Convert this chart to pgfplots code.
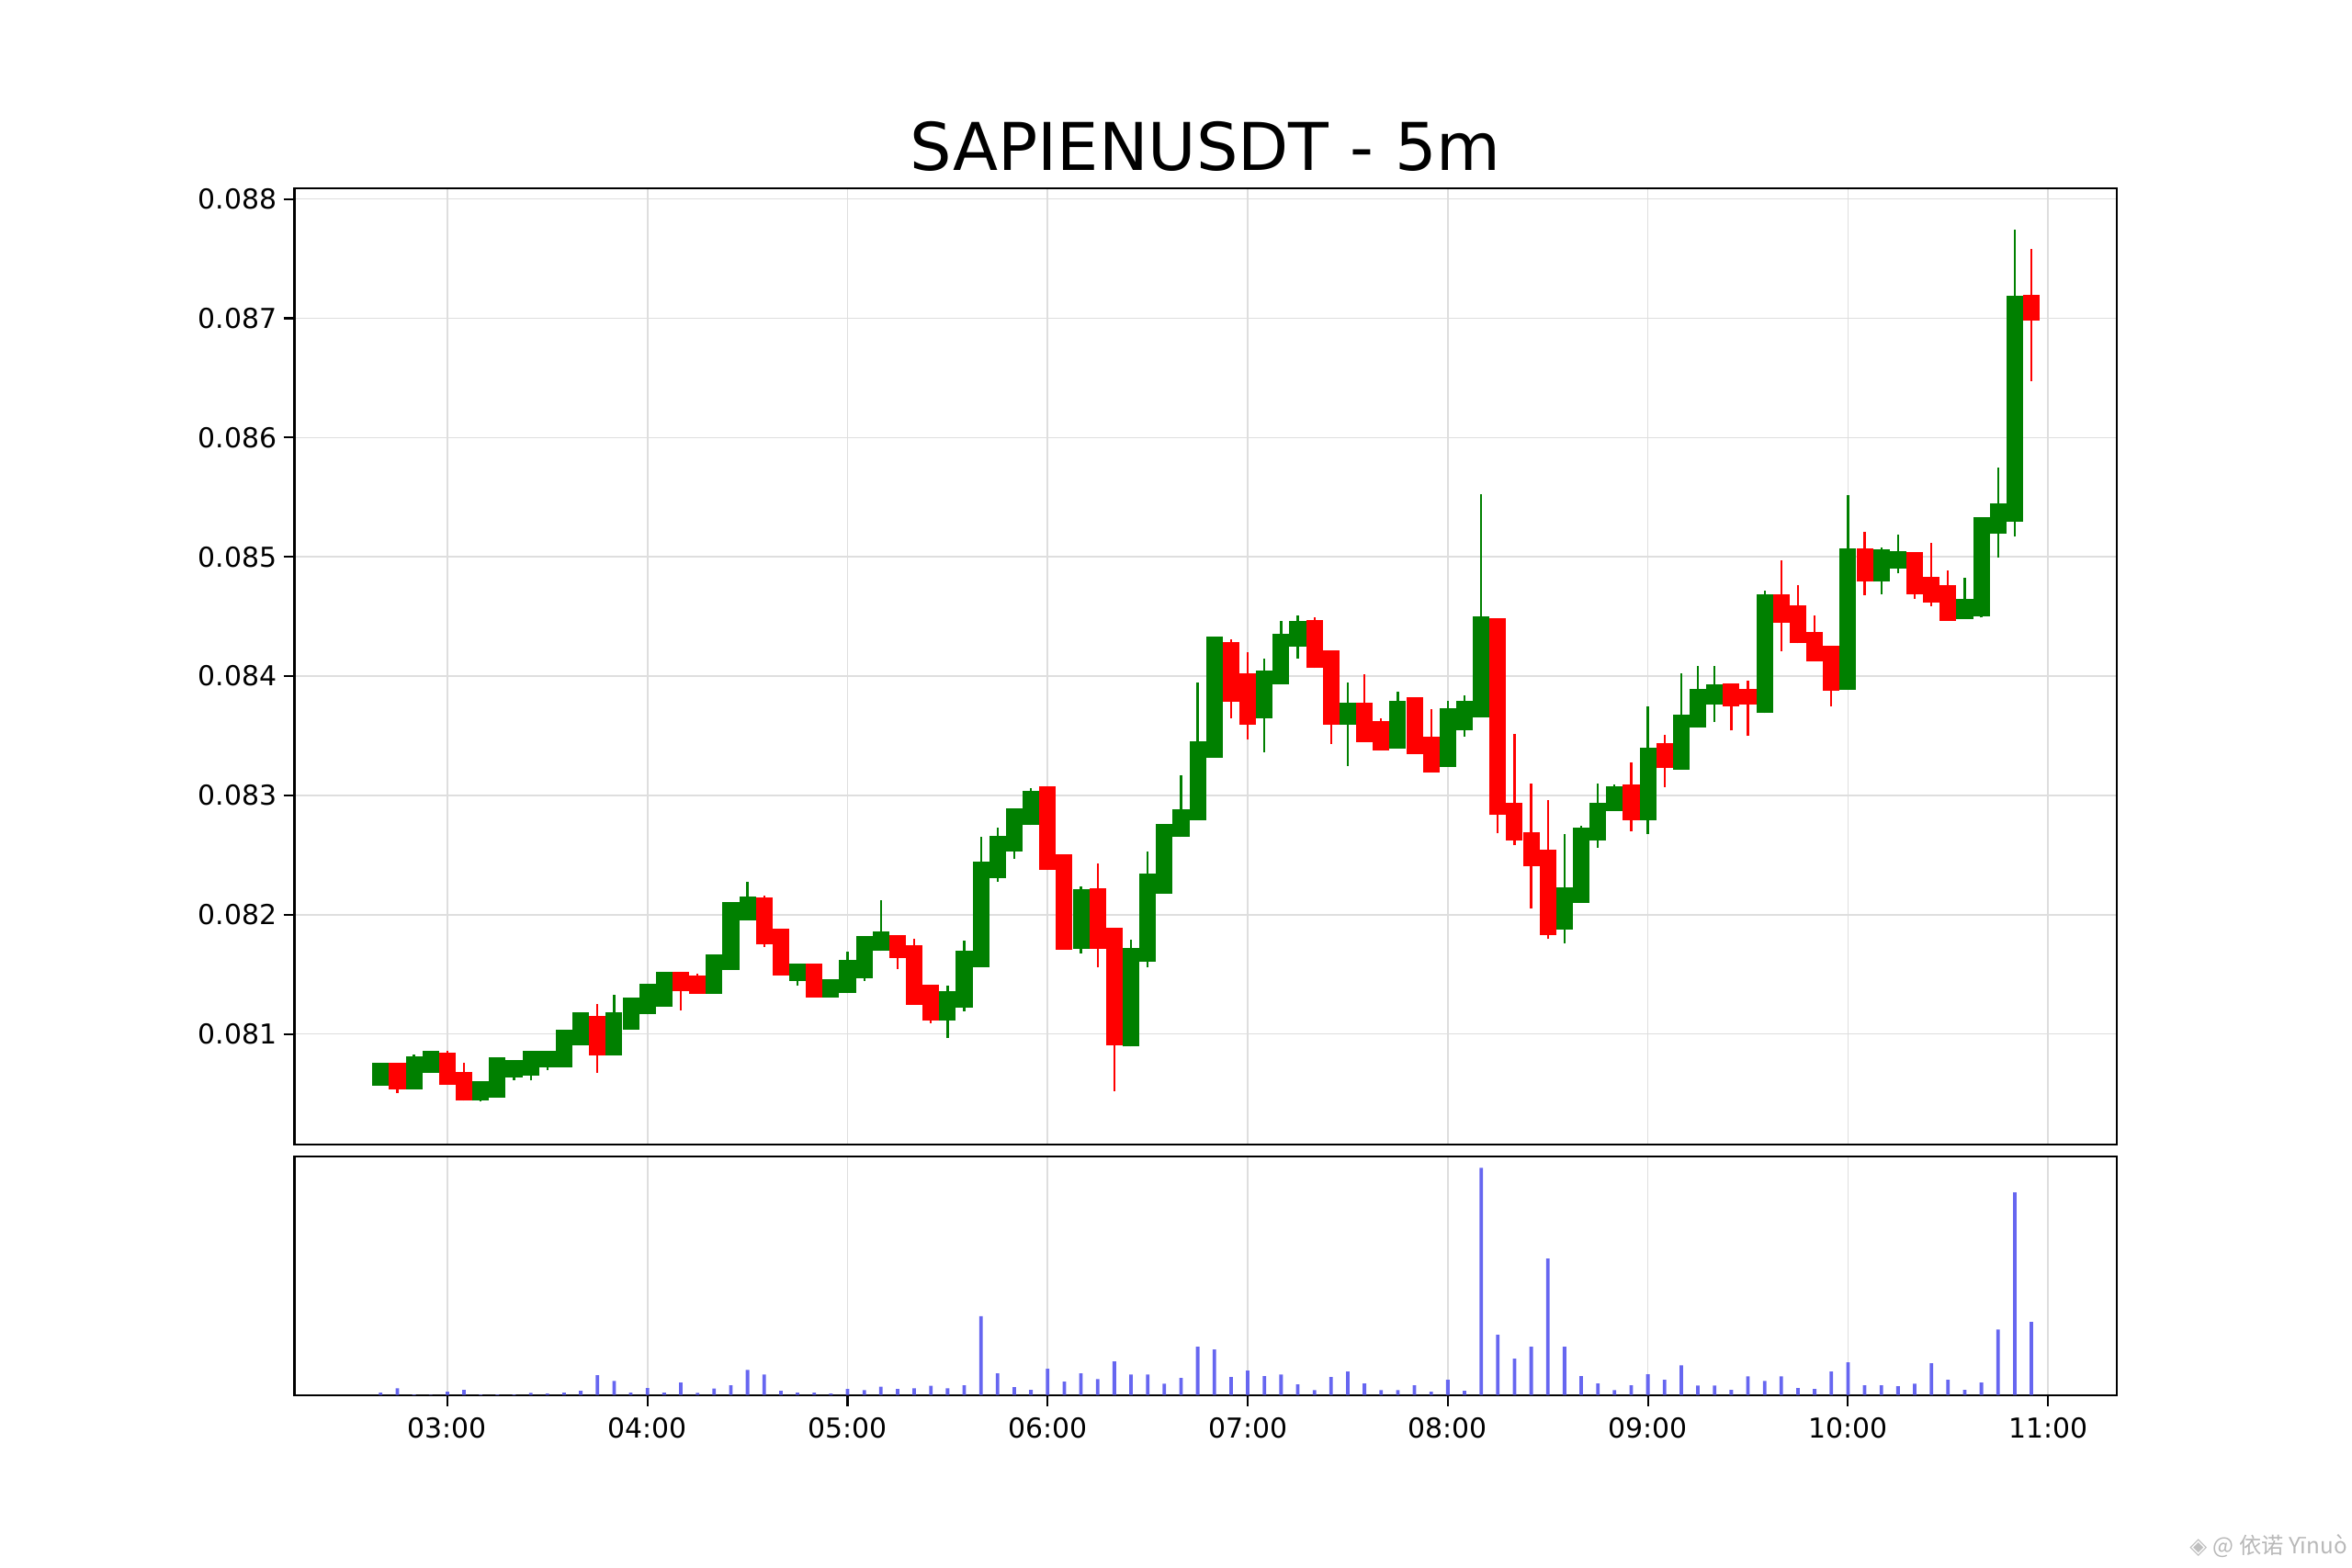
\documentclass[border=0pt]{standalone}
\usepackage{fontspec}
\setmainfont{DejaVu Sans}
\newfontfamily\cjk{Noto Sans CJK SC}
\usepackage{pgfplots}
\usepackage{pgfplotstable}
\pgfplotsset{compat=1.18}
\definecolor{cgreen}{RGB}{0,128,0}
\definecolor{cred}{RGB}{255,0,0}
\definecolor{vblue}{RGB}{102,102,240}
\definecolor{gridc}{RGB}{222,222,222}

% up candles: index (5-min step from 02:40), open, high, low, close
\pgfplotstableread{
i o h l c
0 0.080569 0.080762 0.080569 0.080762
2 0.080538 0.080826 0.080538 0.080813
3 0.080674 0.080856 0.080674 0.080856
6 0.080441 0.080603 0.080433 0.080603
7 0.080467 0.080805 0.080467 0.080805
8 0.080638 0.080782 0.080615 0.080782
9 0.080654 0.080856 0.080610 0.080856
10 0.080723 0.080859 0.080700 0.080859
11 0.080723 0.081036 0.080723 0.081036
12 0.080908 0.081182 0.080908 0.081182
14 0.080821 0.081326 0.080821 0.081182
15 0.081038 0.081305 0.081038 0.081305
16 0.081164 0.081423 0.081164 0.081423
17 0.081231 0.081523 0.081231 0.081523
20 0.081338 0.081669 0.081338 0.081669
21 0.081538 0.082110 0.081538 0.082110
22 0.081956 0.082277 0.081956 0.082151
25 0.081448 0.081589 0.081403 0.081589
27 0.081308 0.081462 0.081308 0.081462
28 0.081342 0.081690 0.081342 0.081621
29 0.081469 0.081825 0.081448 0.081825
30 0.081695 0.082125 0.081695 0.081862
34 0.081111 0.081409 0.080963 0.081363
35 0.081218 0.081780 0.081191 0.081695
36 0.081562 0.082655 0.081562 0.082443
37 0.082305 0.082729 0.082279 0.082658
38 0.082531 0.082889 0.082469 0.082889
39 0.082751 0.083058 0.082751 0.083040
42 0.081714 0.082239 0.081676 0.082218
45 0.080894 0.081788 0.080894 0.081721
46 0.081607 0.082528 0.081557 0.082345
47 0.082178 0.082761 0.082178 0.082761
48 0.082650 0.083167 0.082650 0.082881
49 0.082793 0.083950 0.082793 0.083451
50 0.083319 0.084333 0.083319 0.084333
53 0.083646 0.084149 0.083362 0.084045
54 0.083931 0.084460 0.083931 0.084356
55 0.084250 0.084511 0.084149 0.084463
58 0.083593 0.083947 0.083247 0.083779
61 0.083396 0.083870 0.083396 0.083790
64 0.083239 0.083793 0.083239 0.083731
65 0.083545 0.083840 0.083495 0.083790
66 0.083654 0.085529 0.083654 0.084503
71 0.081877 0.082675 0.081763 0.082231
72 0.082098 0.082747 0.082098 0.082734
73 0.082622 0.083096 0.082564 0.082941
74 0.082869 0.083090 0.082869 0.083077
76 0.082792 0.083744 0.082680 0.083397
78 0.083218 0.084025 0.083218 0.083680
79 0.083569 0.084082 0.083569 0.083895
80 0.083762 0.084082 0.083615 0.083928
83 0.083690 0.084715 0.083690 0.084687
88 0.083888 0.085520 0.083888 0.085074
90 0.084791 0.085079 0.084687 0.085065
91 0.084903 0.085183 0.084861 0.085051
95 0.084482 0.084827 0.084482 0.084650
96 0.084505 0.085332 0.084491 0.085332
97 0.085191 0.085752 0.084995 0.085449
98 0.085295 0.087743 0.085169 0.087188
}\upc

% down candles
\pgfplotstableread{
i o h l c
1 0.080762 0.080762 0.080505 0.080538
4 0.080844 0.080859 0.080577 0.080577
5 0.080685 0.080759 0.080441 0.080441
13 0.081151 0.081249 0.080677 0.080821
18 0.081523 0.081523 0.081197 0.081356
19 0.081487 0.081505 0.081338 0.081338
23 0.082144 0.082160 0.081731 0.081749
24 0.081881 0.081881 0.081491 0.081491
26 0.081589 0.081589 0.081308 0.081308
31 0.081833 0.081833 0.081544 0.081639
32 0.081748 0.081796 0.081244 0.081244
33 0.081414 0.081414 0.081090 0.081111
40 0.083074 0.083074 0.082379 0.082379
41 0.082504 0.082504 0.081708 0.081708
43 0.082225 0.082430 0.081557 0.081714
44 0.081889 0.081889 0.080520 0.080905
51 0.084287 0.084306 0.083646 0.083787
52 0.084024 0.084200 0.083468 0.083593
56 0.084473 0.084497 0.084067 0.084067
57 0.084213 0.084213 0.083433 0.083593
59 0.083779 0.084016 0.083447 0.083447
60 0.083620 0.083646 0.083380 0.083380
62 0.083822 0.083822 0.083348 0.083348
63 0.083495 0.083721 0.083194 0.083194
67 0.084484 0.084484 0.082681 0.082835
68 0.082941 0.083513 0.082582 0.082622
69 0.082694 0.083096 0.082050 0.082404
70 0.082542 0.082960 0.081795 0.081832
75 0.083095 0.083274 0.082700 0.082792
77 0.083436 0.083505 0.083069 0.083228
81 0.083941 0.083941 0.083544 0.083749
82 0.083895 0.083962 0.083497 0.083762
84 0.084687 0.084973 0.084210 0.084449
85 0.084594 0.084765 0.084275 0.084275
86 0.084370 0.084510 0.084126 0.084126
87 0.084252 0.084252 0.083748 0.083879
89 0.085074 0.085211 0.084681 0.084791
92 0.085043 0.085043 0.084650 0.084687
93 0.084835 0.085121 0.084589 0.084617
94 0.084763 0.084889 0.084463 0.084463
99 0.087196 0.087580 0.086473 0.086980
}\dnc

% volume (relative units)
\pgfplotstableread{
i v
0 8
1 22
2 2
3 1
4 11
5 17
6 2
7 2
8 2
9 7
10 5
11 8
12 14
13 65
14 46
15 8
16 23
17 8
18 41
19 7
20 21
21 32
22 82
23 67
24 14
25 8
26 8
27 5
28 20
29 16
30 27
31 20
32 22
33 30
34 22
35 32
36 258
37 71
38 26
39 17
40 86
41 44
42 71
43 52
44 110
45 67
46 67
47 37
48 56
49 158
50 149
51 59
52 80
53 62
54 67
55 35
56 16
57 59
58 77
59 38
60 16
61 16
62 32
63 11
64 50
65 14
66 743
67 197
68 119
69 158
70 446
71 158
72 62
73 38
74 16
75 32
76 68
77 50
78 97
79 31
80 31
81 17
82 61
83 46
84 61
85 23
86 20
87 77
88 107
89 32
90 32
91 29
92 37
93 104
94 50
95 17
96 41
97 214
98 662
99 239
}\vol

\begin{document}
\begin{tikzpicture}
\path (0,0) rectangle (25.6,17.07);

\begin{axis}[
  scale only axis, at={(3.205cm,4.613cm)}, anchor=south west,
  width=19.831cm, height=10.407cm,
  xmin=-5.17, xmax=104.1, ymin=0.080076, ymax=0.088090,
  axis line style={line width=0.6pt},
  xtick={4,16,28,40,52,64,76,88,100}, xticklabels={}, xtick style={draw=none},
  ytick={0.081,0.082,0.083,0.084,0.085,0.086,0.087,0.088},
  yticklabels={0.081,0.082,0.083,0.084,0.085,0.086,0.087,0.088},
  scaled y ticks=false,
  tick align=outside, tick pos=left, major tick length=0.12cm,
  ytick style={line width=0.6pt, black},
  grid=major, major grid style={gridc, line width=0.45pt},
  yticklabel style={font=\fontsize{8.5}{10}\selectfont, xshift=0.05cm},
  title={SAPIENUSDT - 5m},
  title style={font=\fontsize{20.4}{24}\selectfont, anchor=base, at={(0.5,1)}, yshift=-0.02cm},
]
% wicks
\addplot[draw=none, mark=none, forget plot,
  error bars/.cd, y dir=plus, y explicit, error mark=none,
  error bar style={draw=cgreen, line width=0.65pt}]
  table[x=i, y=l, y error plus expr=\thisrow{h}-\thisrow{l}] {\upc};
\addplot[draw=none, mark=none, forget plot,
  error bars/.cd, y dir=plus, y explicit, error mark=none,
  error bar style={draw=cred, line width=0.65pt}]
  table[x=i, y=l, y error plus expr=\thisrow{h}-\thisrow{l}] {\dnc};
% bodies
\addplot[draw=none, mark=none, forget plot,
  error bars/.cd, y dir=plus, y explicit, error mark=none,
  error bar style={draw=cgreen, line width=0.181cm}]
  table[x=i, y=o, y error plus expr=\thisrow{c}-\thisrow{o}] {\upc};
\addplot[draw=none, mark=none, forget plot,
  error bars/.cd, y dir=plus, y explicit, error mark=none,
  error bar style={draw=cred, line width=0.181cm}]
  table[x=i, y=c, y error plus expr=\thisrow{o}-\thisrow{c}] {\dnc};
\end{axis}

\begin{axis}[
  scale only axis, at={(3.205cm,1.883cm)}, anchor=south west,
  width=19.831cm, height=2.594cm,
  xmin=-5.17, xmax=104.1, ymin=0, ymax=779,
  axis line style={line width=0.6pt},
  ytick=\empty,
  xtick={4,16,28,40,52,64,76,88,100},
  xticklabels={03:00,04:00,05:00,06:00,07:00,08:00,09:00,10:00,11:00},
  tick align=outside, tick pos=left, major tick length=0.12cm,
  xtick style={line width=0.6pt, black},
  xmajorgrids, major grid style={gridc, line width=0.45pt},
  xticklabel style={font=\fontsize{8.5}{10}\selectfont},
]
\addplot[ybar, bar width=0.038cm, bar shift=0pt, fill=vblue, draw=none]
  table[x=i, y=v] {\vol};
\end{axis}

\node[anchor=base east, inner sep=0pt, text=black!25,
  font=\fontsize{7}{8}\selectfont] at (24.03,0.153) {◈};
\node[anchor=base west, inner sep=0pt, text=black!28,
  font=\cjk\fontsize{6.9}{8}\selectfont] at (24.08,0.153) {@ 依诺 Yīnuò};
\end{tikzpicture}
\end{document}
